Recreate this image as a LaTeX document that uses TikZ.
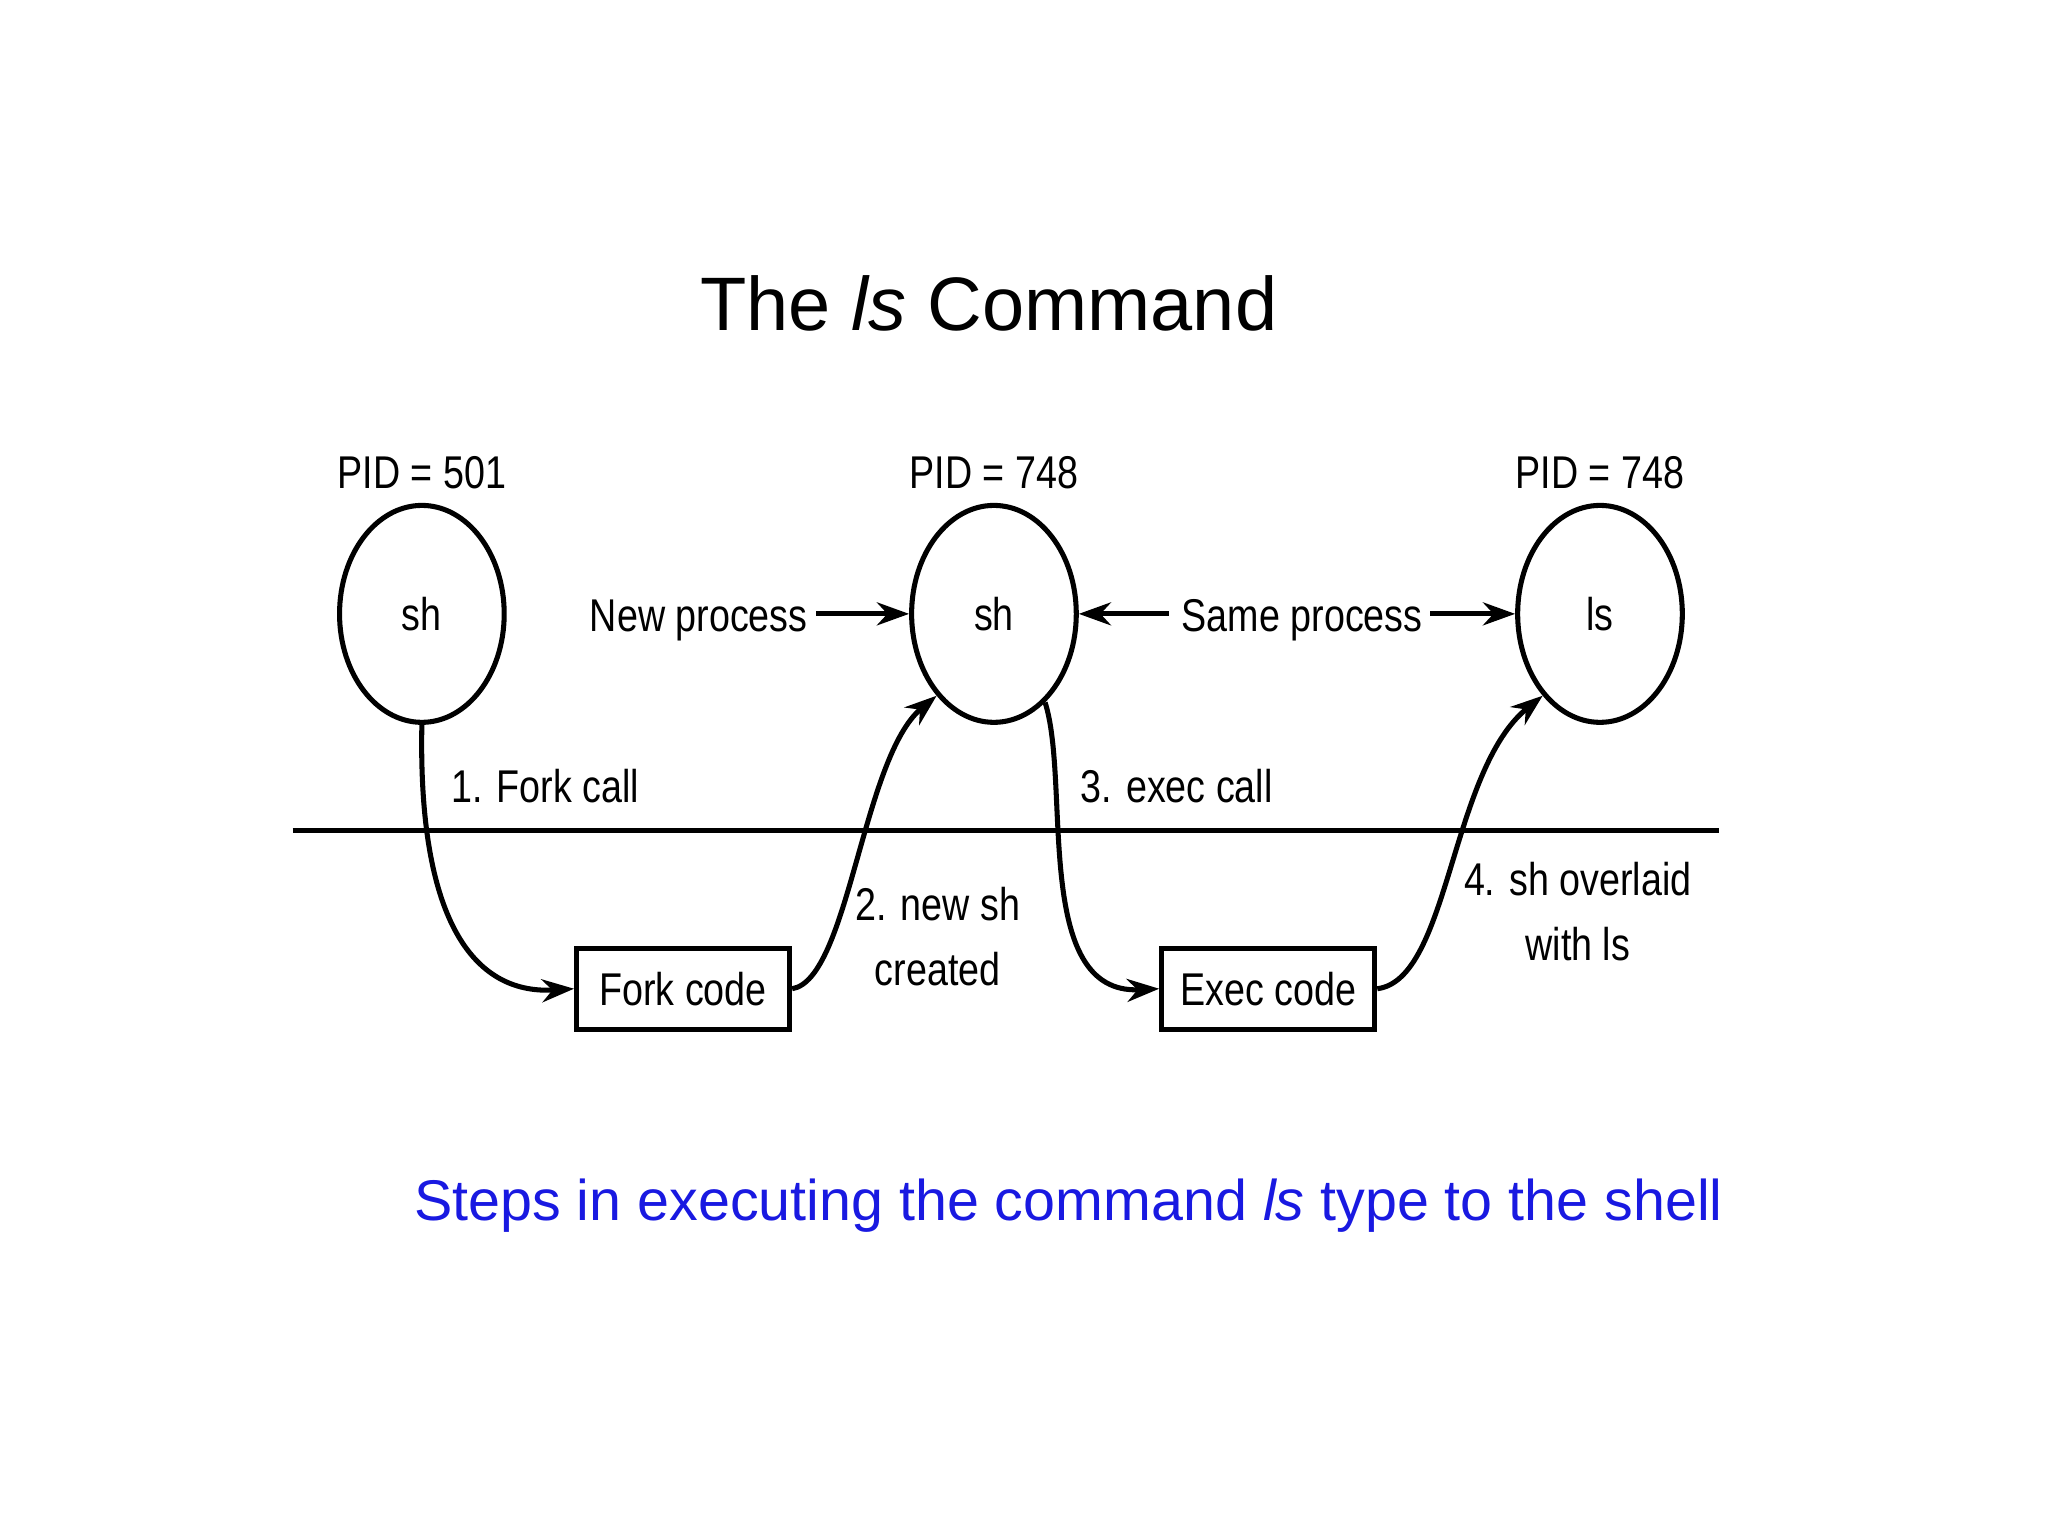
\documentclass[tikz,border=0pt]{standalone}
\usepackage{fontspec}
\setmainfont{Liberation Sans}
\newfontfamily\narrowf[FakeStretch=0.82]{Liberation Sans}
\usetikzlibrary{arrows.meta,shapes.geometric}
\definecolor{capblue}{RGB}{25,25,225}
\begin{document}
\begin{tikzpicture}[x=0.01cm,y=-0.01cm,
  proc/.style={draw,line width=1.1pt,ellipse,minimum width=1.26cm,minimum height=1.66cm,font=\narrowf\fontsize{10}{12}\selectfont},
  codebox/.style={draw,line width=1.1pt,minimum width=1.63cm,minimum height=0.62cm,inner sep=1pt,font=\narrowf\fontsize{10}{12}\selectfont},
  lbl/.style={font=\narrowf\fontsize{10}{14}\selectfont,align=center},
  arr/.style={line width=1.1pt,-{Stealth[length=7pt,width=5pt]}}]
\useasboundingbox (0,0) rectangle (1568,1176);
\node[font=\fontsize{16.5}{20}\selectfont] (title) at (757,232) {The \textit{ls} Command};
\node[proc] (c1) at (323,470) {sh};
\node[proc] (c2) at (761,470) {sh};
\node[proc] (c3) at (1225,470) {ls};
\node[lbl] (p1) at (323,362) {PID = 501};
\node[lbl] (p2) at (761,362) {PID = 748};
\node[lbl] (p3) at (1225,362) {PID = 748};
\node[lbl] (np) at (535,475) {New process};
\node[lbl] (sp) at (997,475) {Same process};
\coordinate (npa) at (625,470);
\coordinate (spa) at (895,470);
\coordinate (spb) at (1095,470);
\draw[arr] (npa) -- (c2.west);
\draw[arr] (spa) -- (c2.east);
\draw[arr] (spb) -- (c3.west);
\coordinate (hl) at (224,636); \coordinate (hr) at (1316,636);
\draw[line width=1.1pt] (hl) -- (hr);
\node[codebox] (fork) at (523,757) {Fork code};
\node[codebox] (exec) at (971,757) {Exec code};
\draw[arr] (c1.south) .. controls (320,700) and (360,762) .. (fork.west);
\draw[arr] (fork.east) .. controls (650,750) and (660,580) .. (c2.-125);
\draw[arr] (c2.-60) .. controls (820,600) and (790,762) .. (exec.west);
\draw[arr] (exec.east) .. controls (1110,750) and (1110,590) .. (c3.-125);
\node[lbl,anchor=west] (l1) at (333,602) {1. Fork call};
\node[lbl,anchor=west] (l3) at (815,602) {3. exec call};
\node[lbl] (l2) at (718,717) {2. new sh\\created};
\node[lbl] (l4) at (1208,698) {4. sh overlaid\\with ls};
\node[font=\fontsize{12.5}{15}\selectfont,text=capblue] (cap) at (818,923) {Steps in executing the command \textit{ls} type to the shell};
\end{tikzpicture}
\end{document}
